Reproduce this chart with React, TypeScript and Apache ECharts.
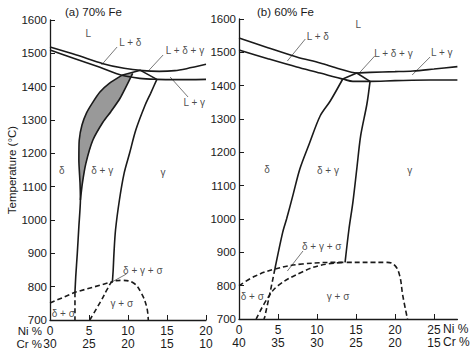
import React, { useEffect, useRef } from "react";
import * as echarts from "echarts";

// ---------- data: panel (a) 70% Fe ----------
const aLiqUpper = [[0,1519],[3.4,1495],[6.8,1469],[9.5,1455],[11.9,1448],[14,1446],[16,1448],[17.5,1454],[20,1467]];
const aLiqLower = [[0,1510],[3.2,1484],[6.4,1458],[9.2,1434],[11.5,1425],[13.7,1422],[16,1421],[20,1422]];
const aTriangle = [[9.2,1434],[11.6,1449],[13.7,1422]];
const aDeltaLeft = [[9.2,1434],[7.6,1410],[6.4,1384],[5.4,1350],[4.7,1322],[4.1,1285],[3.75,1240],[3.7,1180],[3.85,1110],[3.9,1060],[3.7,980],[3.5,900],[3.3,830],[3.2,783]];
const aDeltaRight = [[10.6,1440],[9.0,1366],[7.8,1325],[6.8,1294],[5.5,1240],[4.6,1170],[4.15,1110],[3.9,1060]];
const aGamma = [[13.7,1422],[12.9,1380],[12.2,1345],[11.0,1270],[10.2,1200],[9.5,1140],[8.9,1060],[8.4,970],[8.2,900],[8.1,850],[8.0,815]];
const aSigmaTie = [[0,751],[3.2,783],[8.0,815]];
const aSigmaVert = [[3.2,783],[3.2,700]];
const aSigmaDome = [[5.1,700],[6.6,760],[7.4,795],[8.0,815],[9.2,819],[10.7,811],[11.7,781],[12.4,739],[12.6,700]];
const aLabelTexts = ["L","L + δ","L + δ + γ","L + γ","δ","δ + γ","γ","δ + γ + σ","γ + σ","δ + σ"];
const aLabelPos = [[4.9,1561],[10.3,1534],[17.3,1510],[18.5,1354],[1.5,1150],[6.7,1150],[14.5,1144],[11.9,850],[9.2,751],[1.7,721]];
const aLeaders = [[[8.6,1519],[6.6,1465]],[[14.5,1495],[12.6,1447]],[[17.7,1369],[15.4,1429]],[[9.8,838],[7.7,811]]];

// ---------- data: panel (b) 60% Fe ----------
const bLiqUpper = [[0,1543],[3.7,1514],[7.4,1486],[10.4,1468],[12.8,1451],[15.1,1438],[16.8,1440],[20,1442],[22.3,1444],[25,1450],[28,1457]];
const bLiqLower = [[0,1507],[3.7,1481],[7.4,1456],[10.4,1438],[12.4,1425],[13.3,1420],[14.6,1413],[16.8,1413],[20,1415],[24.5,1417],[28,1417]];
const bTriangle = [[13.3,1420],[15.1,1438],[16.8,1413]];
const bDelta = [[13.3,1420],[11.7,1354],[10.4,1309],[9.0,1225],[7.8,1150],[6.9,1070],[6.1,1000],[5.6,960],[4.6,850]];
const bDeltaDash = [[4.6,850],[4.0,781],[3.3,706],[3.2,700]];
const bGamma = [[16.8,1413],[16.4,1345],[15.6,1250],[15.1,1150],[14.6,1050],[14.1,970],[13.6,870]];
const bSigmaUpper = [[0,800],[2.1,829],[4.6,850],[8.1,865],[13.6,870],[19,870],[20,860],[20.6,830],[21,770],[21.6,700]];
const bSigmaLower = [[2.2,700],[3.6,760],[5.0,800],[8.1,841],[10.6,862],[13.6,870]];
const bLabelTexts = ["L","L + δ","L + δ + γ","L + γ","δ","δ + γ","γ","δ + γ + σ","γ + σ","δ + σ"];
const bLabelPos = [[15.3,1585],[10.1,1549],[19.8,1498],[26,1501],[3.6,1150],[11.4,1147],[21.9,1147],[10.6,919],[12.7,769],[1.7,769]];
const bLeaders = [[[8.5,1540],[6.2,1474]],[[17.4,1489],[15.3,1435]],[[24.5,1486],[22.2,1432]],[[8.2,904],[6.2,844]]];

// ---------- axes ----------
const aNiMax = 20;
const aCrAtZero = 30;
const bNiMax = 28;
const bCrAtZero = 40;
const tempMin = 700;
const tempMax = 1600;

const INK = "#1a1a1a";
const FONT = '"Liberation Sans", Arial, Helvetica, sans-serif';

function line(data: number[][], idx: number, dashed = false, smooth: number | boolean = 0.3, width = 1.6) {
  return {
    type: "line",
    xAxisIndex: idx,
    yAxisIndex: idx,
    data,
    symbol: "none",
    showSymbol: false,
    smooth,
    silent: true,
    clip: false,
    lineStyle: { color: INK, width, type: dashed ? [5, 3] : "solid" },
    z: 3,
  };
}

function leader(data: number[][], idx: number) {
  return {
    type: "line",
    xAxisIndex: idx,
    yAxisIndex: idx,
    data,
    symbol: "none",
    silent: true,
    lineStyle: { color: "#555", width: 0.8 },
    z: 2,
  };
}

function labels(texts: string[], pos: number[][], idx: number) {
  return {
    type: "scatter",
    xAxisIndex: idx,
    yAxisIndex: idx,
    symbolSize: 0,
    silent: true,
    itemStyle: { color: INK },
    data: texts.map((t, i) => ({ name: t, value: pos[i] })),
    label: {
      show: true,
      position: "inside",
      formatter: "{b}",
      fontSize: 10,
      color: INK,
      textBorderWidth: 0,
      textBorderColor: "transparent",
      fontFamily: FONT,
    },
    z: 5,
  };
}

function xAxis(idx: number, max: number, crZero: number) {
  return {
    type: "value",
    gridIndex: idx,
    min: 0,
    max,
    interval: 5,
    axisLine: { show: true, lineStyle: { color: INK, width: 1.3 } },
    axisTick: { show: true, inside: true, length: 5, lineStyle: { color: INK } },
    splitLine: { show: false },
    axisLabel: {
      margin: 4,
      fontSize: 12,
      lineHeight: 13,
      color: INK,
      fontFamily: FONT,
      showMaxLabel: max % 5 === 0,
      formatter: (v: number) => `${v}\n${crZero - v}`,
    },
  };
}

function yAxis(idx: number) {
  return {
    type: "value",
    gridIndex: idx,
    min: tempMin,
    max: tempMax,
    interval: 100,
    axisLine: { show: true, lineStyle: { color: INK, width: 1.3 } },
    axisTick: { show: true, inside: true, length: 5, lineStyle: { color: INK } },
    splitLine: { show: false },
    axisLabel: { margin: 3, fontSize: 11.5, color: INK, fontFamily: FONT, formatter: (v: number) => String(v) },
  };
}

export default function App() {
  const ref = useRef<HTMLDivElement>(null);
  useEffect(() => {
    if (!ref.current) return;
    const chart = echarts.init(ref.current, null, { renderer: "svg" });
    const shadePoly = aDeltaLeft.slice(0, 10).concat(aDeltaRight.slice().reverse());
    const option: any = {
      animation: false,
      backgroundColor: "#fff",
      grid: [
        { left: 50, top: 20, width: 156, height: 300 },
        { left: 239, top: 19, width: 218.4, height: 300 },
      ],
      xAxis: [xAxis(0, aNiMax, aCrAtZero), xAxis(1, bNiMax, bCrAtZero)],
      yAxis: [yAxis(0), yAxis(1)],
      graphic: [
        { type: "text", left: 65, top: 6, style: { text: "(a) 70% Fe", fontSize: 11.5, fill: INK, fontFamily: FONT } },
        { type: "text", left: 257, top: 6, style: { text: "(b) 60% Fe", fontSize: 11.5, fill: INK, fontFamily: FONT } },
        { type: "text", x: 42, y: 331, style: { text: "Ni %", fontSize: 11.5, fill: INK, fontFamily: FONT, align: "right", verticalAlign: "middle" } },
        { type: "text", x: 42, y: 344, style: { text: "Cr %", fontSize: 11.5, fill: INK, fontFamily: FONT, align: "right", verticalAlign: "middle" } },
        { type: "text", x: 443, y: 329, style: { text: "Ni %", fontSize: 12, fill: INK, fontFamily: FONT, align: "left", verticalAlign: "middle" } },
        { type: "text", x: 443, y: 342, style: { text: "Cr %", fontSize: 12, fill: INK, fontFamily: FONT, align: "left", verticalAlign: "middle" } },
        { type: "text", x: 12, y: 170, rotation: Math.PI / 2, style: { text: "Temperature (°C)", fontSize: 11.5, fill: INK, fontFamily: FONT, align: "center", verticalAlign: "middle" } },
      ],
      series: [
        {
          type: "custom",
          xAxisIndex: 0,
          yAxisIndex: 0,
          silent: true,
          data: [shadePoly[0]],
          renderItem: (params: any, api: any) => {
            const pts = shadePoly.map((p) => api.coord(p));
            return { type: "polygon", shape: { points: pts }, style: { fill: "#999999", stroke: "none" } };
          },
          z: 1,
        },
        line(aLiqUpper, 0),
        line(aLiqLower, 0),
        line(aTriangle, 0, false, false),
        line(aDeltaLeft, 0, false, 0.2),
        line(aDeltaRight, 0, false, 0.2),
        line(aGamma, 0),
        line(aSigmaTie, 0, true, false),
        line(aSigmaVert, 0, true, false),
        line(aSigmaDome, 0, true, 0.4),
        ...aLeaders.map((d) => leader(d, 0)),
        labels(aLabelTexts, aLabelPos, 0),

        line(bLiqUpper, 1),
        line(bLiqLower, 1),
        line(bTriangle, 1, false, false),
        line(bDelta, 1),
        line(bDeltaDash, 1, true, false),
        line(bGamma, 1),
        line(bSigmaUpper, 1, true, 0.4),
        line(bSigmaLower, 1, true, 0.4),
        ...bLeaders.map((d) => leader(d, 1)),
        labels(bLabelTexts, bLabelPos, 1),
      ],
    };
    chart.setOption(option);
    return () => chart.dispose();
  }, []);
  return <div ref={ref} style={{ position: "fixed", left: 0, top: 0, width: 474, height: 355 }} />;
}
